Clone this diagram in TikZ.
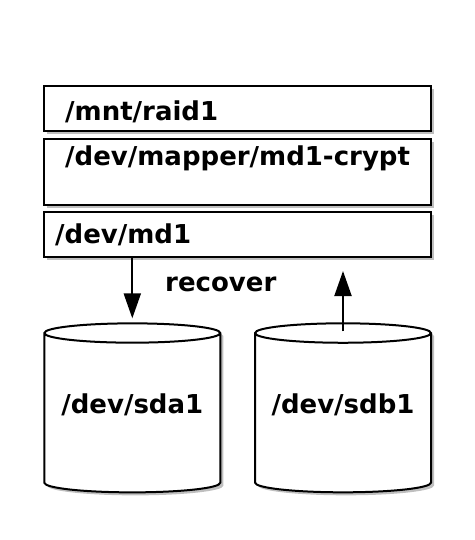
\documentclass[tikz,border=0pt]{standalone}
\usepackage{fontspec}
\setmainfont{DejaVu Sans}
\usepackage{tikz}
\usetikzlibrary{shapes.geometric, arrows.meta, shadows}
\tikzstyle{pbox} = [rectangle, draw, line width=2pt, fill=white, minimum width=387pt, drop shadow={shadow xshift=3pt, shadow yshift=-3pt, opacity=0.5}]
\tikzstyle{disk} = [cylinder, shape border rotate=90, draw, line width=2pt, fill=white, aspect=0.13, minimum width=176pt, minimum height=169pt, text height=20pt, text depth=22pt, drop shadow={shadow xshift=3pt, shadow yshift=-3pt, opacity=0.5}, font=\fontsize{26}{30}\selectfont\bfseries]
\tikzstyle{txt} = [anchor=base west, inner sep=0pt, font=\fontsize{26}{30}\selectfont\bfseries]
\tikzstyle{arrow} = [draw, line width=2pt, -{Triangle[length=25pt, width=17pt]}]

\begin{document}
\begin{tikzpicture}[x=1pt, y=-1pt]
			\useasboundingbox (0, 0) rectangle (474, 540);
			\node [pbox, minimum height=45pt] (raid) at (237.5, 108.5) {};
			\node [pbox, minimum height=66pt] (crypt) at (237.5, 172) {};
			\node [pbox, minimum height=45pt] (md1) at (237.5, 234.5) {};
			\node [txt] (raidtext) at (65, 121) {/mnt/raid1};
			\node [txt] (crypttext) at (65, 166) {/dev/mapper/md1-crypt};
			\node [txt] (mdtext) at (55, 243) {/dev/md1};
			\node [txt] (recover) at (165, 291.5) {recover};
			\node [disk] (sda1) at (132.3, 414.5) {/dev/sda1};
			\node [disk] (sdb1) at (343, 414.5) {/dev/sdb1};

			\path [arrow, shorten >=4pt] (md1.south -| sda1) -- (sda1.top);
			\path [arrow, shorten >=13pt] ([yshift=-9pt]sdb1.top) -- (md1.south -| sdb1);
		\end{tikzpicture}
\end{document}
